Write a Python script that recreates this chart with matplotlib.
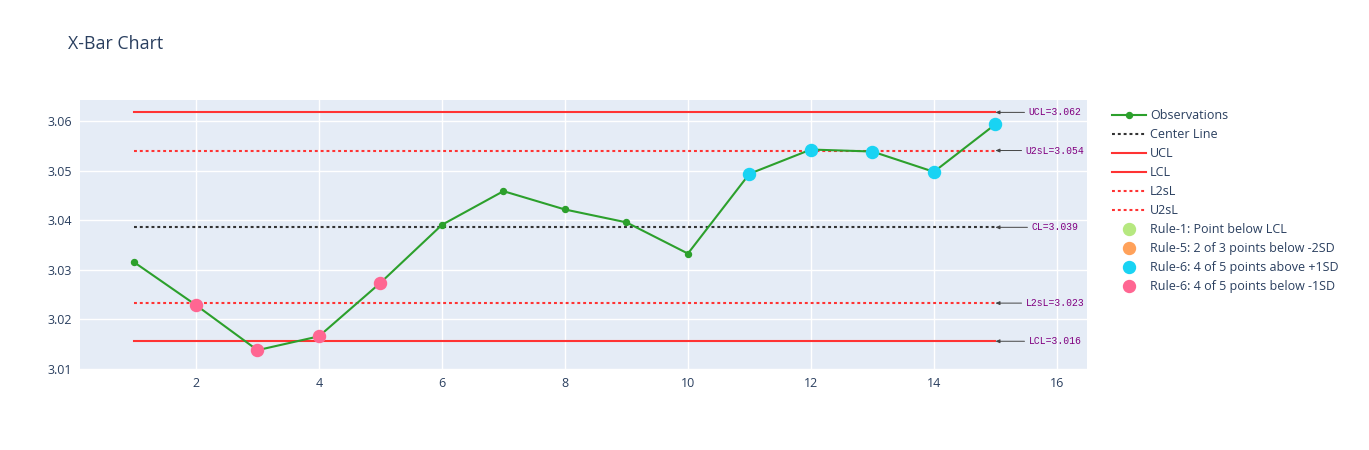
import numpy as np
import matplotlib.pyplot as plt
from matplotlib.lines import Line2D

plt.rcParams['font.family'] = ['Open Sans', 'DejaVu Sans']

# sample number and subgroup means
samples = list(range(1, 16))
xbar = [3.0315, 3.0229, 3.0138, 3.0166, 3.0274, 3.0391, 3.0459, 3.0422,
        3.0396, 3.0333, 3.0494, 3.0543, 3.0539, 3.0498, 3.0594]

cl = 3.0386
ucl = 3.0618
lcl = 3.0156
u2sl = 3.0541
l2sl = 3.0233

limit_labels = ["UCL=3.062", "U2sL=3.054", "CL=3.039", "L2sL=3.023", "LCL=3.016"]

# rule violations
rule6_above_x = [11, 12, 13, 14, 15]
rule6_above_y = [3.0494, 3.0543, 3.0539, 3.0498, 3.0594]
rule6_below_x = [2, 3, 4, 5]
rule6_below_y = [3.0229, 3.0138, 3.0166, 3.0274]
rule1_x, rule1_y = [], []
rule5_x, rule5_y = [], []

txt_col = '#2a3f5f'
fig = plt.figure(figsize=(13.69, 4.5), dpi=100)
ax = fig.add_axes([80/1369, 81/450, 1007/1369, 269/450])
ax.set_facecolor('#E5ECF6')
for s in ax.spines.values():
    s.set_visible(False)
ax.grid(color='white', linewidth=1)
ax.set_axisbelow(True)

xs = [samples[0], samples[-1]]
dot = (0, (1.4, 1.4))
h_obs, = ax.plot(samples, xbar, color='#2ca02c', lw=1.5, marker='o', ms=4.3, zorder=4)
h_cl, = ax.plot(xs, [cl, cl], color='#333333', lw=1.5, ls=dot, zorder=3)
h_ucl, = ax.plot(xs, [ucl, ucl], color='#ff3333', lw=1.5, zorder=3)
h_lcl, = ax.plot(xs, [lcl, lcl], color='#ff3333', lw=1.5, zorder=3)
h_l2, = ax.plot(xs, [l2sl, l2sl], color='#ff3333', lw=1.5, ls=dot, zorder=3)
h_u2, = ax.plot(xs, [u2sl, u2sl], color='#ff3333', lw=1.5, ls=dot, zorder=3)
h_r1 = ax.scatter(rule1_x, rule1_y, color='#B6E880', s=75, zorder=5)
h_r5 = ax.scatter(rule5_x, rule5_y, color='#FFA15A', s=75, zorder=5)
h_r6a = ax.scatter(rule6_above_x, rule6_above_y, color='#19D3F3', s=75, zorder=5)
h_r6b = ax.scatter(rule6_below_x, rule6_below_y, color='#FF6692', s=75, zorder=5)

for lab, yv in zip(limit_labels, [ucl, u2sl, cl, l2sl, lcl]):
    ax.annotate(lab, xy=(samples[-1], yv), xytext=(43, 0), textcoords='offset points',
                ha='center', va='center', fontsize=7, family='Liberation Mono',
                color='#800080',
                arrowprops=dict(arrowstyle='-|>,head_length=0.35,head_width=0.15',
                                color='#444444', lw=0.7, shrinkA=1, shrinkB=0))

ax.set_xlim(0.114, 16.49)
ax.set_ylim(3.01, 3.0643)
ax.set_xticks([2, 4, 6, 8, 10, 12, 14, 16])
ax.set_yticks([3.01, 3.02, 3.03, 3.04, 3.05, 3.06])
ax.set_yticklabels(['3.01', '3.02', '3.03', '3.04', '3.05', '3.06'])
ax.tick_params(length=0, labelsize=9, colors=txt_col, pad=6)

fig.text(68/1369, 1 - 44/450, 'X-Bar Chart', fontsize=12.75, color=txt_col, va='center')

mk = lambda c: Line2D([], [], ls='none', marker='o', ms=8.6, color=c)
handles = [h_obs, h_cl, h_ucl, h_lcl, h_l2, h_u2,
           mk('#B6E880'), mk('#FFA15A'), mk('#19D3F3'), mk('#FF6692')]
labels = ['Observations', 'Center Line', 'UCL', 'LCL', 'L2sL', 'U2sL',
          'Rule-1: Point below LCL', 'Rule-5: 2 of 3 points below -2SD',
          'Rule-6: 4 of 5 points above +1SD', 'Rule-6: 4 of 5 points below -1SD']
leg = fig.legend(handles, labels, loc='upper left', bbox_to_anchor=(1107/1369, 1 - 104/450),
                 frameon=False, fontsize=9, handlelength=2.7, handletextpad=0.35,
                 labelspacing=0.48, borderaxespad=0)
for t in leg.get_texts():
    t.set_color(txt_col)

fig.savefig('out.png', dpi=100)
